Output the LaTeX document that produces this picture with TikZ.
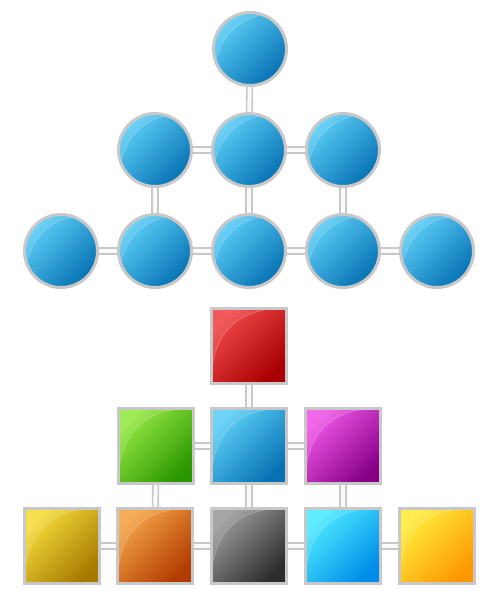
\documentclass[tikz,border=0pt]{standalone}
\usetikzlibrary{backgrounds}
\definecolor{bluetl}{HTML}{5ECFF7}\definecolor{bluebr}{HTML}{0672B4}
\definecolor{redtl}{HTML}{F04848}\definecolor{redbr}{HTML}{A80000}
\definecolor{greentl}{HTML}{94E844}\definecolor{greenbr}{HTML}{2A9600}
\definecolor{magtl}{HTML}{F058E8}\definecolor{magbr}{HTML}{860086}
\definecolor{yeltl}{HTML}{F6DC3C}\definecolor{yelbr}{HTML}{A67A00}
\definecolor{orgtl}{HTML}{F6A448}\definecolor{orgbr}{HTML}{B03C00}
\definecolor{graytl}{HTML}{9C9C9C}\definecolor{graybr}{HTML}{2C2C2C}
\definecolor{cyantl}{HTML}{4EEAFF}\definecolor{cyanbr}{HTML}{008CE8}
\definecolor{goldtl}{HTML}{FFEC3C}\definecolor{goldbr}{HTML}{FF9800}
\definecolor{frame}{HTML}{C8C8C8}
\tikzset{
  gloss/.style={path picture={
    \fill[white,opacity=.10]
      ([yshift=.13*#1]path picture bounding box.south west)
      .. controls ([xshift=.05*#1,yshift=-.22*#1]path picture bounding box.north west)
      and ([xshift=-.55*#1,yshift=-.02*#1]path picture bounding box.north east)
      .. ([xshift=-.12*#1]path picture bounding box.north east)
      -- (path picture bounding box.north west) -- cycle;
    \draw[white,opacity=.25,line width=.7pt]
      ([yshift=.13*#1]path picture bounding box.south west)
      .. controls ([xshift=.05*#1,yshift=-.22*#1]path picture bounding box.north west)
      and ([xshift=-.55*#1,yshift=-.02*#1]path picture bounding box.north east)
      .. ([xshift=-.12*#1]path picture bounding box.north east);
  }},
  ball/.style={circle, minimum size=73pt, inner sep=0pt, draw=frame, line width=3pt,
    top color=bluetl, bottom color=bluebr, shading angle=45, gloss=73pt},
  tile/.style 2 args={rectangle, minimum size=75pt, inner sep=0pt, draw=frame, line width=3pt,
    top color=#1, bottom color=#2, shading angle=45, gloss=75pt},
  tube/.style={draw=frame, line width=1.6pt, double=white!96!gray, double distance=4pt},
}
\begin{document}
\begin{tikzpicture}[x=1pt,y=-1pt]
\useasboundingbox (0,0) rectangle (499,600);
% circles
\node[ball] (c0) at (250,49) {};
\node[ball] (c1) at (155,150) {};
\node[ball] (c2) at (249,150) {};
\node[ball] (c3) at (343,150) {};
\node[ball] (d0) at (61,251) {};
\node[ball] (d1) at (155,251) {};
\node[ball] (d2) at (249,251) {};
\node[ball] (d3) at (343,251) {};
\node[ball] (d4) at (437,251) {};
% squares
\node[tile={redtl}{redbr}] (s0) at (249,346) {};
\node[tile={greentl}{greenbr}] (t1) at (156,446) {};
\node[tile={bluetl}{bluebr}] (t2) at (249,446) {};
\node[tile={magtl}{magbr}] (t3) at (343,446) {};
\node[tile={yeltl}{yelbr}] (u0) at (62,546) {};
\node[tile={orgtl}{orgbr}] (u1) at (155,546) {};
\node[tile={graytl}{graybr}] (u2) at (249,546) {};
\node[tile={cyantl}{cyanbr}] (u3) at (343,546) {};
\node[tile={goldtl}{goldbr}] (u4) at (437,546) {};
\begin{scope}[on background layer]
\draw[tube] (c0) -- (c2);
\draw[tube] (c1) -- (c2);
\draw[tube] (c2) -- (c3);
\draw[tube] (c1) -- (d1);
\draw[tube] (c2) -- (d2);
\draw[tube] (c3) -- (d3);
\draw[tube] (d0) -- (d1);
\draw[tube] (d1) -- (d2);
\draw[tube] (d2) -- (d3);
\draw[tube] (d3) -- (d4);
\draw[tube] (s0) -- (t2);
\draw[tube] (t1) -- (t2);
\draw[tube] (t2) -- (t3);
\draw[tube] (t1) -- (u1);
\draw[tube] (t2) -- (u2);
\draw[tube] (t3) -- (u3);
\draw[tube] (u0) -- (u1);
\draw[tube] (u1) -- (u2);
\draw[tube] (u2) -- (u3);
\draw[tube] (u3) -- (u4);
\end{scope}
\end{tikzpicture}
\end{document}
